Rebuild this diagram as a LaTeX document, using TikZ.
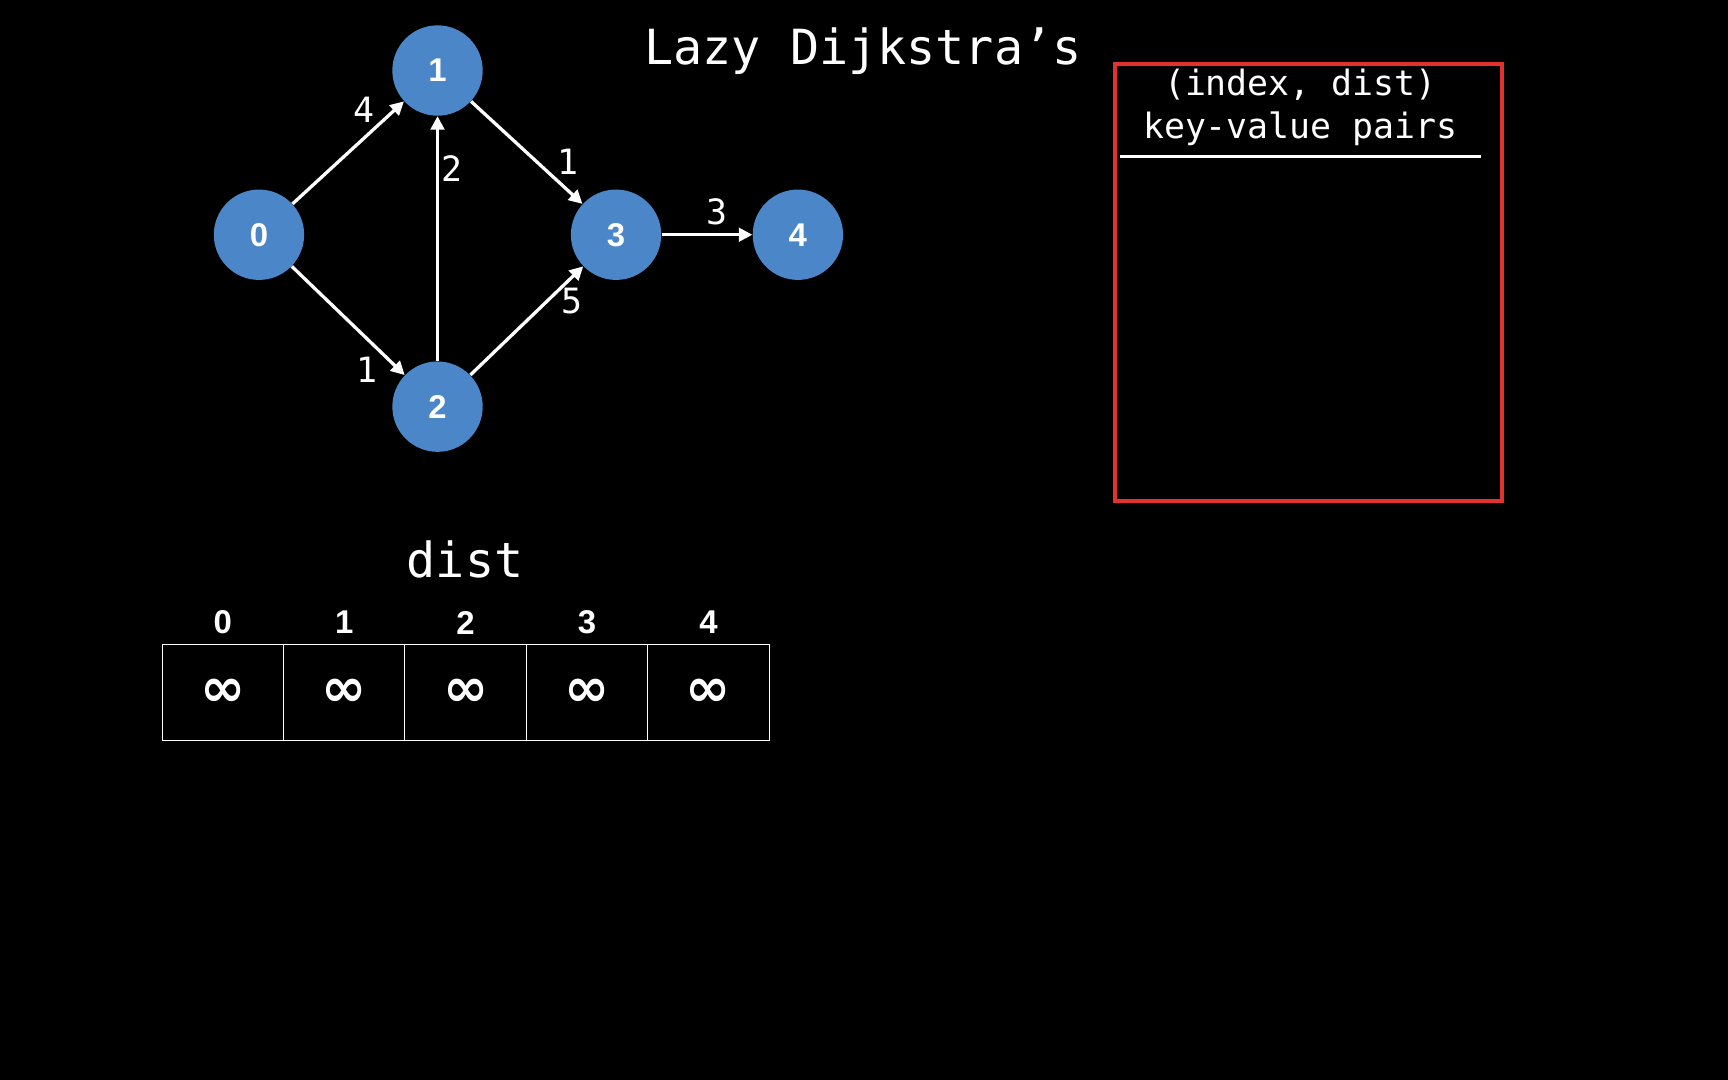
\documentclass[tikz,border=0pt]{standalone}
\usepackage{fontspec}
\setmainfont{Liberation Sans}
\newfontfamily\monof{DejaVu Sans Mono}
\newfontfamily\symf{DejaVu Sans}
\usetikzlibrary{arrows.meta}
\begin{document}
\begin{tikzpicture}[x=0.02cm,y=-0.02cm,
  vert/.style={circle,fill={rgb,255:red,74;green,134;blue,200},minimum size=82*0.02cm,inner sep=0,text=white,font=\fontsize{17}{17}\selectfont\bfseries},
  edge/.style={draw=white,line width=1.7pt,-{Triangle[length=7pt,width=7pt]}},
  elab/.style={text=white,font=\monof\fontsize{18}{18}\selectfont},
  cell/.style={draw=white,line width=0.5pt,minimum width=110.2*0.02cm,minimum height=87*0.02cm,inner sep=0,text=white,font=\symf\fontsize{28}{28}\selectfont\bfseries},
  idx/.style={text=white,font=\fontsize{17}{17}\selectfont\bfseries}]
\fill[black] (0,0) rectangle (1568,980);
\useasboundingbox (0,0) rectangle (1568,980);
\node[vert] (n0) at (235,213) {0};
\node[vert] (n1) at (397,64) {1};
\node[vert] (n2) at (397,369) {2};
\node[vert] (n3) at (559,213) {3};
\node[vert] (n4) at (724,213) {4};
\draw[edge] (n0) -- (n1);
\draw[edge] (n0) -- (n2);
\draw[edge] (n2) -- (n1);
\draw[edge] (n1) -- (n3);
\draw[edge] (n2) -- (n3);
\draw[edge] (n3) -- (n4);
\node[elab] (l01) at (330,100) {4};
\node[elab] (l21) at (410,153) {2};
\node[elab] (l13) at (515,147) {1};
\node[elab] (l34) at (651,192) {3};
\node[elab] (l02) at (333,336) {1};
\node[elab] (l23) at (519,273) {5};
\node[text=white,font=\monof\fontsize{25}{25}\selectfont] (title) at (783,46) {Lazy Dijkstra’s};
\draw[draw={rgb,255:red,225;green,50;blue,45},line width=2pt] (1012,58) rectangle (1363,455);
\node[text=white,font=\monof\fontsize{18}{18}\selectfont] (h1) at (1180,77) {(index, dist)};
\node[text=white,font=\monof\fontsize{18}{18}\selectfont] (h2) at (1180,117) {key-value pairs};
\draw[white,line width=1.7pt] (1016,142) -- (1344,142);
\node[text=white,font=\monof\fontsize{25}{25}\selectfont] (dl) at (422,508) {dist};
\foreach \i in {0,...,4}{
  \node[cell] (c\i) at ({147+55.1+110.2*\i},628.5) {∞};
  \node[idx] (i\i) at ({147+55.1+110.2*\i},565) {\i};
}
\end{tikzpicture}
\end{document}
